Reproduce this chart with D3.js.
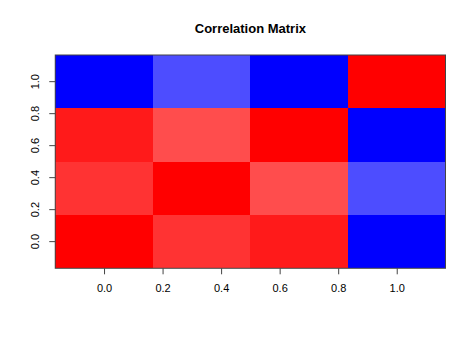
<!DOCTYPE html>
<html><head><meta charset="utf-8">
<script src="https://cdn.jsdelivr.net/npm/d3@7"></script>
<style>body{margin:0;background:#fff}svg{display:block}</style>
</head><body>
<svg id="chart" width="474" height="338"></svg>
<script>
const title = "Correlation Matrix";
const variables = ["V1", "V2", "V3", "V4"];
const positions = [0, 1/3, 2/3, 1];
// correlation values: corrRows[i][j] = corr(variable i, variable j)
const corrRow0 = [1.0, 0.8, 0.9, -1.0];
const corrRow1 = [0.8, 1.0, 0.7, -0.7];
const corrRow2 = [0.9, 0.7, 1.0, -1.0];
const corrRow3 = [-1.0, -0.7, -1.0, 1.0];
const corrRows = [corrRow0, corrRow1, corrRow2, corrRow3];
const tickValues = [0, 0.2, 0.4, 0.6, 0.8, 1.0];

(function () {
const svg = d3.select("#chart");
const pLeft = 55.25, pRight = 445.5, pTop = 55, pBottom = 268.3;
const half = 1/6;
const x = d3.scaleLinear().domain([-half, 1 + half]).range([pLeft, pRight]);
const y = d3.scaleLinear().domain([-half, 1 + half]).range([pBottom, pTop]);
const color = d3.scaleLinear().domain([-1, 0, 1]).range(["#0000ff", "#ffffff", "#ff0000"]);

const cells = [];
corrRows.forEach((row, i) => row.forEach((v, j) => cells.push({xi: positions[i], yj: positions[j], v})));

svg.append("g").selectAll("rect").data(cells).join("rect")
  .attr("x", d => x(d.xi - half))
  .attr("y", d => y(d.yj + half))
  .attr("width", d => x(d.xi + half) - x(d.xi - half))
  .attr("height", d => y(d.yj - half) - y(d.yj + half))
  .attr("fill", d => color(d.v))
  .attr("shape-rendering", "crispEdges");

svg.append("rect").attr("x", pLeft).attr("y", pTop)
  .attr("width", pRight - pLeft).attr("height", pBottom - pTop)
  .attr("fill", "none").attr("stroke", "#444").attr("stroke-width", 1);

const fmt = d3.format(".1f");
const xAxis = svg.append("g").attr("transform", `translate(0,${pBottom})`)
  .call(d3.axisBottom(x).tickValues(tickValues).tickFormat(fmt).tickSize(6).tickPadding(10));
xAxis.select(".domain").remove();
xAxis.selectAll("line").attr("stroke", "#444");
xAxis.selectAll("text").attr("font-family", "Liberation Sans, Arial, sans-serif").attr("font-size", 11).attr("fill", "#000");

const yAxis = svg.append("g").attr("transform", `translate(${pLeft},0)`)
  .call(d3.axisLeft(y).tickValues(tickValues).tickFormat(fmt).tickSize(6).tickPadding(0));
yAxis.select(".domain").remove();
yAxis.selectAll(".tick").attr("transform", null);
yAxis.selectAll(".tick line").attr("stroke", "#444").attr("y1", d => y(d)).attr("y2", d => y(d));
yAxis.selectAll("text")
  .attr("font-family", "Liberation Sans, Arial, sans-serif").attr("font-size", 11).attr("fill", "#000")
  .attr("x", 0).attr("y", 0).attr("dy", "0.35em")
  .attr("text-anchor", "middle")
  .attr("transform", d => `translate(-20,${y(d)}) rotate(-90)`);

svg.append("text").attr("x", (pLeft + pRight) / 2).attr("y", 33)
  .attr("text-anchor", "middle").attr("font-family", "Liberation Sans, Arial, sans-serif")
  .attr("font-weight", "bold").attr("font-size", 13).text(title);
})();
</script>
</body></html>
